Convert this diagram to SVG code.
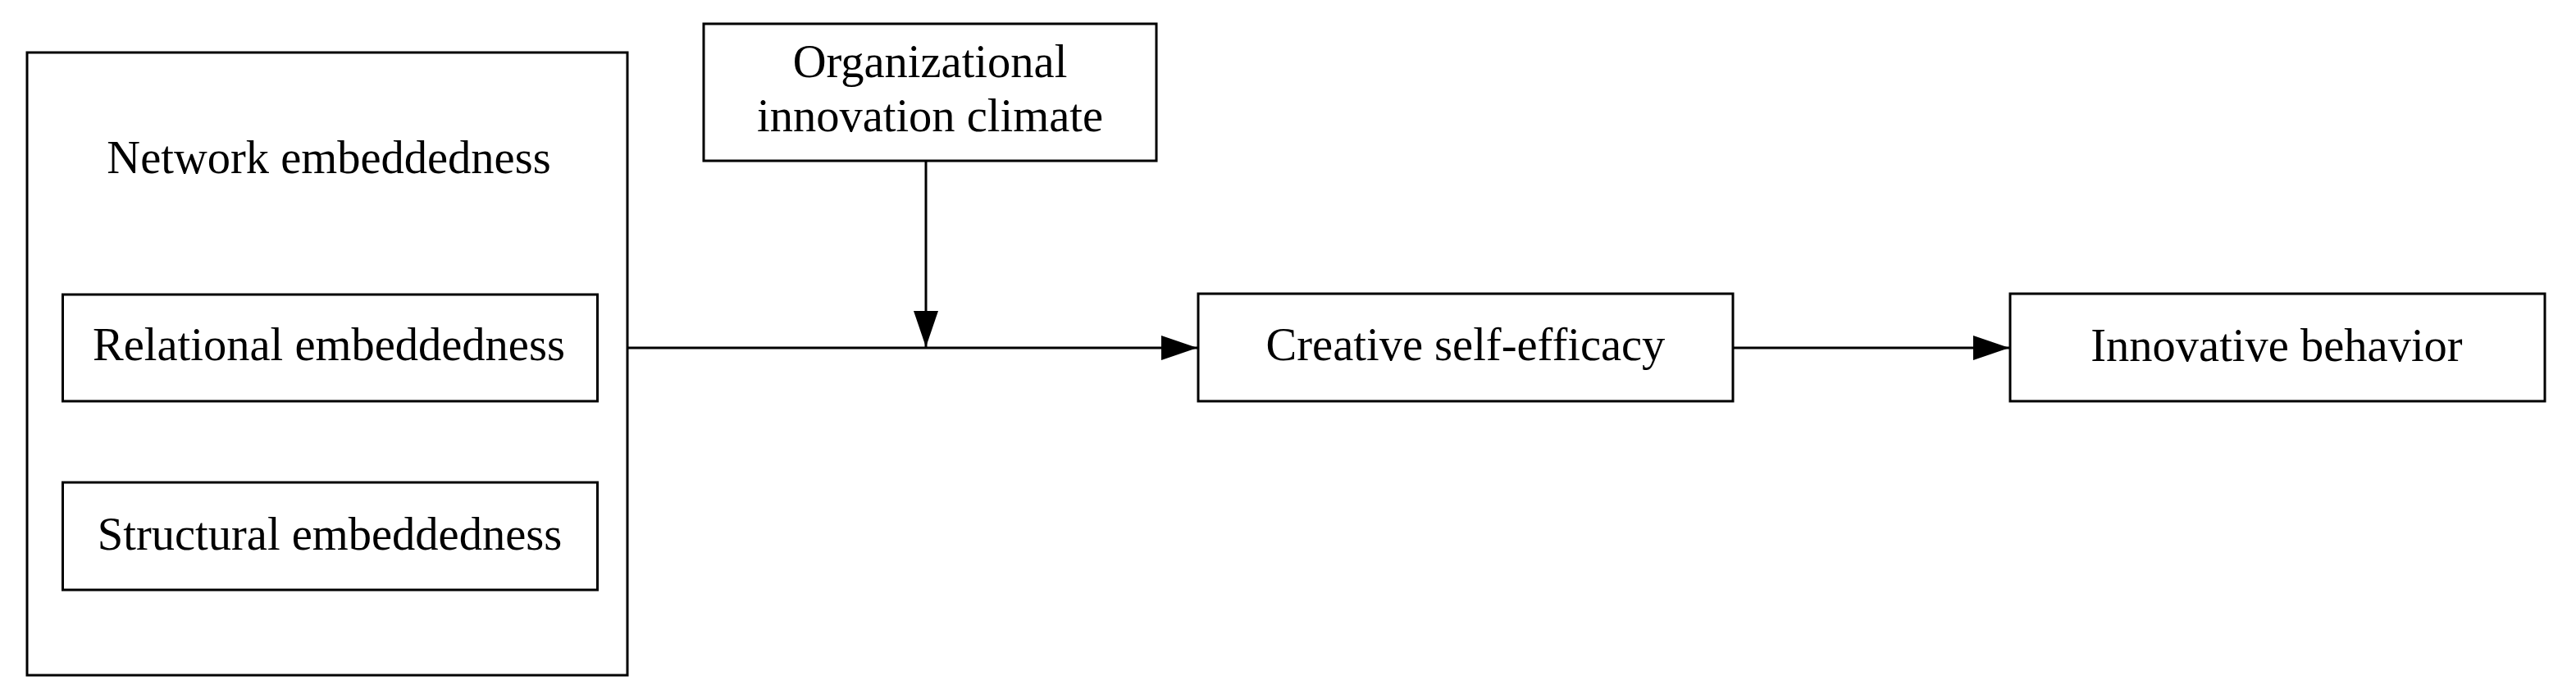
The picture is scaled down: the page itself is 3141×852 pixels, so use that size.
<svg xmlns="http://www.w3.org/2000/svg" width="3141" height="852" viewBox="0 0 3141 852">
<style>
.box{fill:#fff;stroke:#000;stroke-width:3}
.lbl{font-family:"Liberation Serif","Times New Roman",serif;font-size:56.5px;fill:#000;text-anchor:middle}
.conn{stroke:#000;stroke-width:3;fill:none}
</style>
<defs>
<marker id="arr" markerUnits="userSpaceOnUse" markerWidth="46" markerHeight="30" refX="44" refY="15" orient="auto">
<path d="M0,0 L44,15 L0,30 Z" fill="#000"/>
</marker>
</defs>
<rect width="3141" height="852" fill="#fff"/>
<g id="network">
<rect class="box" x="33" y="64" width="732" height="759"/>
<text class="lbl" x="401" y="211">Network embeddedness</text>
</g>
<g id="relational">
<rect class="box" x="76.5" y="359" width="652" height="130"/>
<text class="lbl" x="401" y="439">Relational embeddedness</text>
</g>
<g id="structural">
<rect class="box" x="76.5" y="588" width="652" height="131"/>
<text class="lbl" x="402" y="670">Structural embeddedness</text>
</g>
<g id="climate">
<rect class="box" x="858" y="29" width="552" height="167"/>
<text class="lbl" x="1134" y="94">Organizational</text>
<text class="lbl" x="1134" y="160">innovation climate</text>
</g>
<g id="efficacy">
<rect class="box" x="1461" y="358" width="652" height="131"/>
<text class="lbl" x="1787" y="439">Creative self-efficacy</text>
</g>
<g id="behavior">
<rect class="box" x="2451" y="358" width="652" height="131"/>
<text class="lbl" x="2776" y="440">Innovative behavior</text>
</g>
<g id="connectors">
<line class="conn" x1="765" y1="424" x2="1460" y2="424" marker-end="url(#arr)"/>
<line class="conn" x1="1129" y1="196" x2="1129" y2="423" marker-end="url(#arr)"/>
<line class="conn" x1="2113" y1="424" x2="2450" y2="424" marker-end="url(#arr)"/>
</g>
</svg>
